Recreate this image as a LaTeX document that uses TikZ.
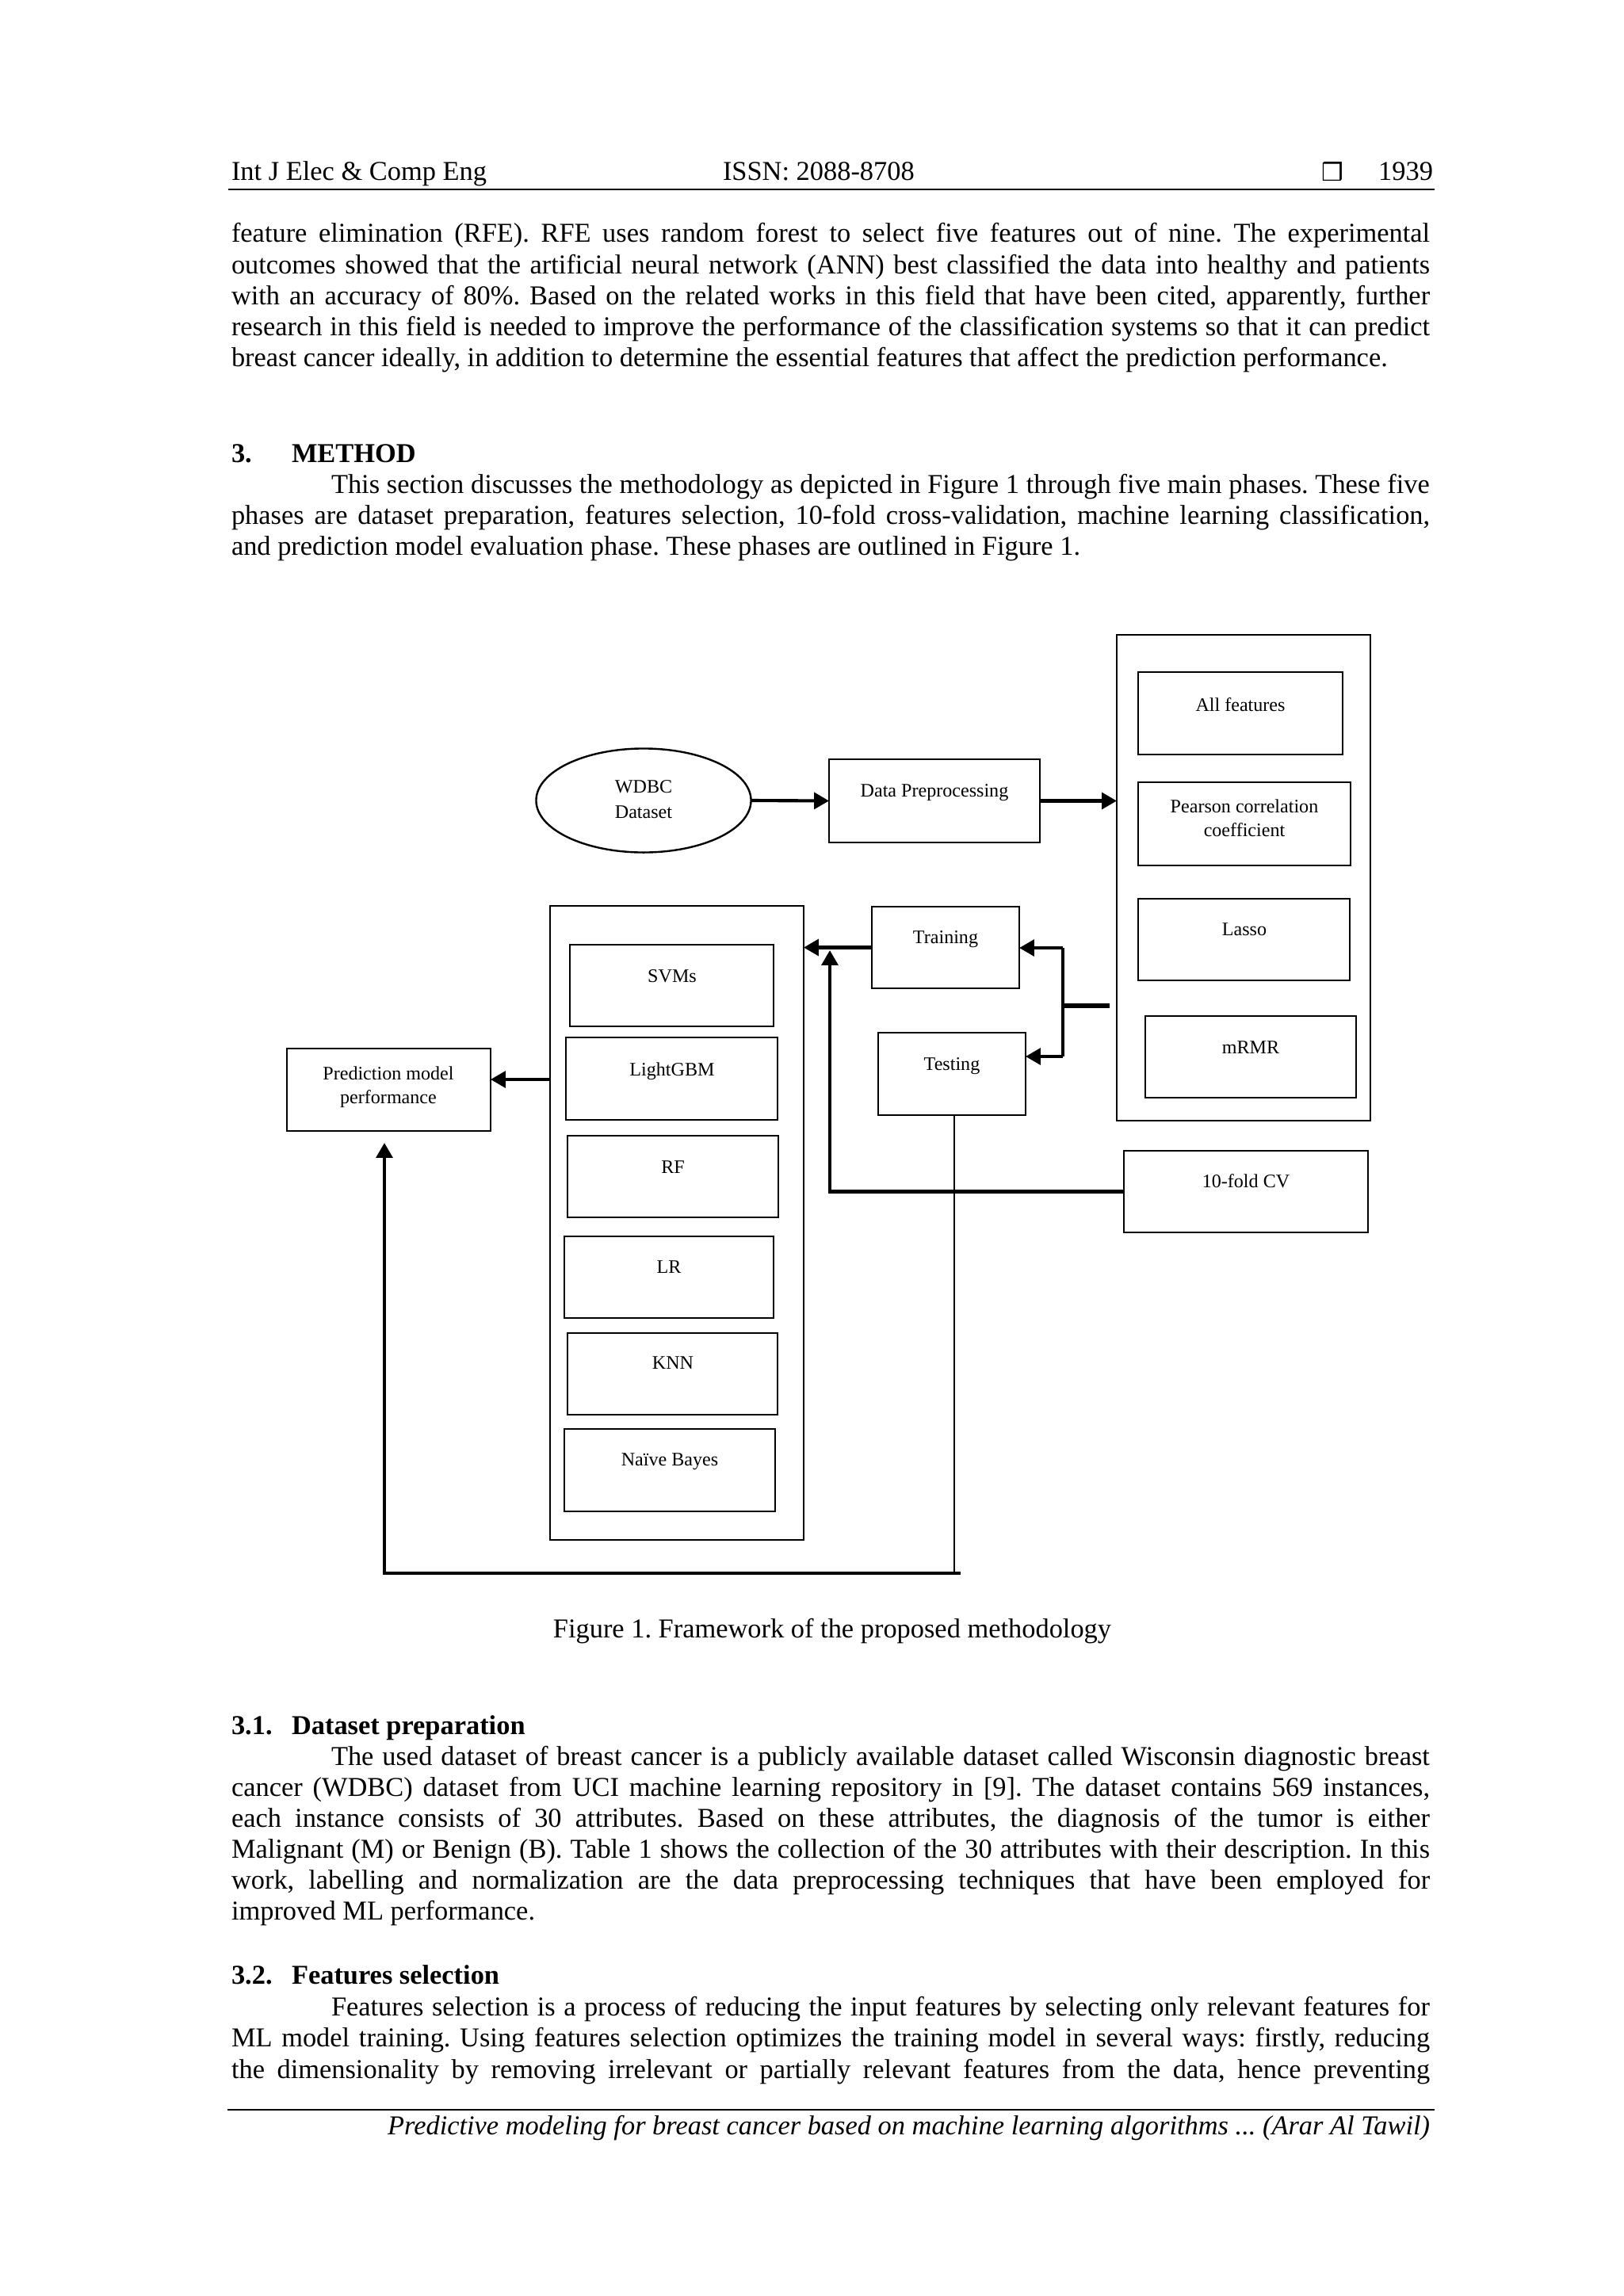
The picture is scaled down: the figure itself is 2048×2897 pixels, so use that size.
\documentclass[tikz,border=0pt]{standalone}
\usepackage{fontspec}
\setmainfont{Liberation Serif}
\newfontfamily\symfont{DejaVu Sans}
\usetikzlibrary{arrows.meta,fit,shapes.geometric}
\frenchspacing
\begin{document}
\begin{tikzpicture}[x=0.29066pt,y=-0.29066pt,
  >={Triangle[length=5.5pt,width=6pt]},
  box/.style={draw, line width=0.7pt, inner sep=0pt, outer sep=0pt},
  lbl/.style={font=\fontsize{7}{8.4}\selectfont, inner sep=0pt, anchor=mid},
  txt/.style={anchor=base west, inner sep=0pt, outer sep=0pt, font=\fontsize{10}{11.4}\selectfont},
  txte/.style={anchor=base east, inner sep=0pt, outer sep=0pt, font=\fontsize{10}{11.4}\selectfont},
  hd/.style={anchor=base west, inner sep=0pt, outer sep=0pt, font=\fontsize{10}{11.4}\selectfont\bfseries},
  thk/.style={line width=1.2pt},
  fat/.style={line width=1.7pt},
  thn/.style={line width=0.35pt},
  rule/.style={line width=0.6pt}]
\fill[white] (0,0) rectangle (2048,2897);
\useasboundingbox (0,0) rectangle (2048,2897);

% ---------- header ----------
\node[txt] (h1) at (292,227) {Int J Elec \& Comp Eng};
\node[txt] (h2) at (912,227) {ISSN: 2088-8708};
\node[anchor=base west, inner sep=0pt, font=\symfont\fontsize{9}{9}\selectfont] (h3) at (1667,228) {❒};
\node[txte] (h4) at (1808,227) {1939};
\coordinate (hrA) at (288,239); \coordinate (hrB) at (1810,239);
\draw[rule] (hrA) -- (hrB);

% ---------- paragraph 1 ----------
\node[txt] (p1a) at (292,305) {\makebox[439.5pt][s]{feature elimination (RFE). RFE uses random forest to select five features out of nine. The experimental}};
\node[txt] (p1b) at (292,345) {\makebox[439.5pt][s]{outcomes showed that the artificial neural network (ANN) best classified the data into healthy and patients}};
\node[txt] (p1c) at (292,384) {\makebox[439.5pt][s]{with an accuracy of 80\%. Based on the related works in this field that have been cited, apparently, further}};
\node[txt] (p1d) at (292,423) {\makebox[439.5pt][s]{research in this field is needed to improve the performance of the classification systems so that it can predict}};
\node[txt] (p1e) at (292,462) {breast cancer ideally, in addition to determine the essential features that affect the prediction performance.};

% ---------- 3. METHOD ----------
\node[hd] (s3n) at (292,583) {3.};
\node[hd] (s3t) at (368,583) {METHOD};
\node[txt] (p2a) at (418,622) {\makebox[402.8pt][s]{This section discusses the methodology as depicted in Figure 1 through five main phases. These five}};
\node[txt] (p2b) at (292,661) {\makebox[439.5pt][s]{phases are dataset preparation, features selection, 10-fold cross-validation, machine learning classification,}};
\node[txt] (p2c) at (292,700) {and prediction model evaluation phase. These phases are outlined in Figure 1.};

% ---------- figure ----------
\node[box, fit={(1409,801) (1729,1414)}] (fs) {};
\node[box, fit={(1436,848) (1694,952)}] (allf) {};
\node[box, fit={(1436,987) (1704,1092)}] (pear) {};
\node[box, fit={(1436,1134) (1703,1237)}] (lasso) {};
\node[box, fit={(1445,1282) (1711,1385)}] (mrmr) {};
\node[box, fit={(1418,1452) (1726,1555)}] (cv) {};
\node[box, fit={(1046,958) (1312,1063)}] (dp) {};
\node[draw, line width=0.7pt, ellipse, inner sep=0pt, outer sep=0pt, minimum width=78.8pt, minimum height=38.1pt] (wdbc) at (812,1010) {};
\node[box, fit={(1100,1144) (1286,1247)}] (train) {};
\node[box, fit={(1108,1303) (1294,1407)}] (test) {};
\node[box, fit={(694,1143) (1014,1943)}] (clf) {};
\node[box, fit={(719,1192) (976,1295)}] (svm) {};
\node[box, fit={(714,1309) (981,1413)}] (lgbm) {};
\node[box, fit={(716,1433) (982,1536)}] (rf) {};
\node[box, fit={(712,1560) (976,1663)}] (lr) {};
\node[box, fit={(716,1682) (981,1785)}] (knn) {};
\node[box, fit={(712,1803) (978,1907)}] (nb) {};
\node[box, fit={(362,1323) (619,1427)}] (pred) {};

% labels
\node[lbl] (wdbct1) at (812,993) {WDBC};
\node[lbl] (wdbct2) at (812,1025) {Dataset};
\node[lbl] (dpt) at (1179,998) {Data Preprocessing};
\node[lbl] (allft) at (1565,890) {All features};
\node[lbl] (peart1) at (1570,1018) {Pearson correlation};
\node[lbl] (peart2) at (1570,1048) {coefficient};
\node[lbl] (lassot) at (1570,1173) {Lasso};
\node[lbl] (mrmrt) at (1578,1322) {mRMR};
\node[lbl] (cvt) at (1572,1491) {10-fold CV};
\node[lbl] (traint) at (1193,1183) {Training};
\node[lbl] (testt) at (1201,1343) {Testing};
\node[lbl] (svmt) at (848,1232) {SVMs};
\node[lbl] (lgbmt) at (848,1350) {LightGBM};
\node[lbl] (rft) at (849,1473) {RF};
\node[lbl] (lrt) at (844,1599) {LR};
\node[lbl] (knnt) at (849,1720) {KNN};
\node[lbl] (nbt) at (845,1842) {Naïve Bayes};
\node[lbl] (predt1) at (490,1355) {Prediction model};
\node[lbl] (predt2) at (490,1385) {performance};

% connectors
\draw[thk,->] (wdbc.east) -- (dp.west);
\draw[thk,->] (dp.east) -- (dp.east -| fs.west);
\coordinate (fsx) at (1400,1269);
\coordinate (spm) at (1341,1269);
\coordinate (spT) at (1341,1196);
\coordinate (spB) at (1341,1333);
\draw[fat] (fsx) -- (spm);
\draw[thk] (spT) -- (spB);
\draw[thk,->] (spT) -- (spT -| train.east);
\draw[thk,->] (spB) -- (spB -| test.east);
\draw[thk,->] (train.west) -- (train.west -| clf.east);
\coordinate (cvtip) at (1047,1199);
\draw[thk,->] (cv.west) -| (cvtip);
\coordinate (ya) at (0,1362);
\draw[thk,->] (clf.west |- ya) -- (pred.east |- ya);
\coordinate (bl) at (1204,1983);
\draw[thn] (test.south -| bl) -- (bl);
\coordinate (br) at (1212,1985);
\coordinate (bll) at (485,1985);
\coordinate (predtip) at (485,1442);
\draw[thk,->] (br) -- (bll) -- (predtip);

% caption
\node[anchor=base, inner sep=0pt, font=\fontsize{10}{11.4}\selectfont] (cap) at (1050,2066) {Figure 1. Framework of the proposed methodology};

% ---------- 3.1 ----------
\node[hd] (s31n) at (292,2188) {3.1.};
\node[hd] (s31t) at (368,2188) {Dataset preparation};
\node[txt] (p3a) at (418,2227) {\makebox[402.8pt][s]{The used dataset of breast cancer is a publicly available dataset called Wisconsin diagnostic breast}};
\node[txt] (p3b) at (292,2266) {\makebox[439.5pt][s]{cancer (WDBC) dataset from UCI machine learning repository in [9]. The dataset contains 569 instances,}};
\node[txt] (p3c) at (292,2305) {\makebox[439.5pt][s]{each instance consists of 30 attributes. Based on these attributes, the diagnosis of the tumor is either}};
\node[txt] (p3d) at (292,2344) {\makebox[439.5pt][s]{Malignant (M) or Benign (B). Table 1 shows the collection of the 30 attributes with their description. In this}};
\node[txt] (p3e) at (292,2383) {\makebox[439.5pt][s]{work, labelling and normalization are the data preprocessing techniques that have been employed for}};
\node[txt] (p3f) at (292,2422) {improved ML performance.};

% ---------- 3.2 ----------
\node[hd] (s32n) at (292,2503) {3.2.};
\node[hd] (s32t) at (368,2503) {Features selection};
\node[txt] (p4a) at (418,2543) {\makebox[402.8pt][s]{Features selection is a process of reducing the input features by selecting only relevant features for}};
\node[txt] (p4b) at (292,2582) {\makebox[439.5pt][s]{ML model training. Using features selection optimizes the training model in several ways: firstly, reducing}};
\node[txt] (p4c) at (292,2622) {\makebox[439.5pt][s]{the dimensionality by removing irrelevant or partially relevant features from the data, hence preventing}};

% ---------- footer ----------
\coordinate (frA) at (287,2662); \coordinate (frB) at (1810,2662);
\draw[rule] (frA) -- (frB);
\node[txte, font=\fontsize{10}{11.4}\selectfont\itshape] (ft) at (1804,2693) {Predictive modeling for breast cancer based on machine learning algorithms ... (Arar Al Tawil)};
\end{tikzpicture}
\end{document}
